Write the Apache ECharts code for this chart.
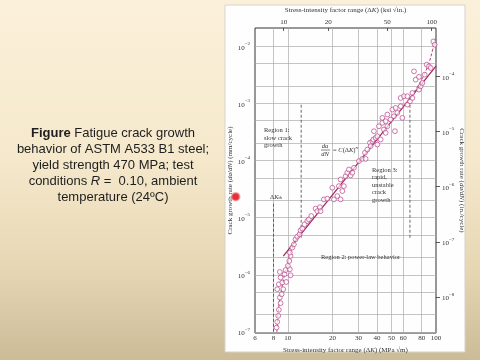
<!DOCTYPE html>
<html><head><meta charset="utf-8">
<script src="https://cdn.jsdelivr.net/npm/echarts@6/dist/echarts.min.js"></script>
<style>html,body{margin:0;padding:0;}#c{width:480px;height:360px;}</style>
</head><body><div id="c"></div>
<script>
// Stress-intensity factor range (MPa·√m) and crack growth rate (mm/cycle)
const deltaK = [8.39,8.48,8.61,8.69,8.93,8.83,9.07,8.48,9.31,8.69,9.17,9.75,8.93,9.50,10.43,8.83,9.65,10.31,10.0,10.22,
  10.43,10.31,10.71,10.98,11.27,11.57,12.0,12.18,12.51,12.97,13.52,13.86,14.39,15.39,15.80,16.45,16.63,17.51,18.46,19.95,
  20.46,21.57,22.11,22.70,22.70,23.31,23.89,24.54,25.20,25.84,26.53,27.24,27.93,30.17,31.82,33.50,33.14,34.41,35.83,36.22,
  37.19,37.76,38.11,39.13,40.18,40.18,41.19,42.30,43.43,43.43,44.53,45.72,45.72,46.95,46.95,49.42,50.75,52.03,52.84,53.42,
  54.85,57.74,57.74,59.29,60.78,64.09,64.09,66.73,69.26,69.26,71.03,72.92,76.75,76.75,78.81,80.93,83.9,86.55,89.67,92.08,96.0,98.0];
const dadN = [1.19e-7,1.50e-7,1.91e-7,2.43e-7,3.18e-7,3.99e-7,4.56e-7,5.58e-7,5.58e-7,6.82e-7,7.31e-7,7.48e-7,8.93e-7,1.02e-6,9.80e-7,1.12e-6,1.21e-6,1.25e-6,1.43e-6,1.74e-6,
  2.13e-6,2.44e-6,2.99e-6,3.41e-6,4.18e-6,4.66e-6,5.11e-6,6.0e-6,6.43e-6,7.64e-6,8.72e-6,9.33e-6,1.07e-5,1.44e-5,1.30e-5,1.53e-5,1.30e-5,2.09e-5,2.15e-5,3.34e-5,
  2.09e-5,2.39e-5,3.57e-5,2.09e-5,4.67e-5,2.92e-5,3.57e-5,5.33e-5,6.12e-5,6.98e-5,5.49e-5,6.12e-5,7.48e-5,9.77e-5,1.07e-4,1.07e-4,1.37e-4,1.56e-4,2.05e-4,1.79e-4,
  2.18e-4,2.34e-4,3.27e-4,2.50e-4,2.67e-4,1.91e-4,3.99e-4,2.34e-4,5.60e-4,4.58e-4,3.50e-4,3.06e-4,4.89e-4,6.40e-4,3.99e-4,5.24e-4,7.82e-4,5.97e-4,3.27e-4,8.38e-4,
  6.85e-4,1.25e-3,8.93e-4,5.60e-4,1.34e-3,1.34e-3,9.57e-4,1.09e-3,1.25e-3,1.53e-3,3.66e-3,2.62e-3,2.92e-3,1.75e-3,2.0e-3,2.29e-3,3.2e-3,4.79e-3,4.47e-3,4.19e-3,1.22e-2,1.07e-2];

// Region 2 power-law line
const fitK = [9.31, 100];
const fitRate = [2.13e-6, 4.5e-3];
// Region 1 dashed curve
const region1K = [8.43, 8.65, 9.07, 9.65, 10.43, 11.27, 12.6];
const region1Rate = [9.9e-8, 2.5e-7, 5.6e-7, 1.15e-6, 2.4e-6, 3.9e-6, 6.2e-6];
// Region 3 dashed curve
const region3K = [62.4, 72.9, 81.3, 89.3, 95.0, 99.5];
const region3Rate = [9.5e-4, 1.75e-3, 2.84e-3, 4.99e-3, 8.75e-3, 1.42e-2];
// Vertical dashed boundaries: ΔKth, region 1 / 2, region 2 / 3
const boundaryK = [8, 12.3, 66.7];
const boundaryTop = [1.75e-5, 9.5e-4, 9.5e-4];
const boundaryBottom = [1e-7, 4.1e-6, 4.4e-6];

// Axes
const bottomTicks = [6, 8, 10, 20, 30, 40, 50, 60, 80, 100];
const topTicks = [10, 20, 50, 100];
const gridK = [8, 10, 20, 30, 40, 50, 60, 80];
const leftExponents = [-7, -6, -5, -4, -3, -2];
const rightExponents = [-8, -7, -6, -5, -4];
const gridMantissas = [1, 2, 5];

const L = Math.log10;
const toPts = (ks, rs) => ks.map((k, i) => [L(k), L(rs[i])]);

const xMin = L(6), xMax = 2;
const yMin = -7.02, yMax = -1.678;
const topMin = 0.806, topMax = 2.029;
const rMin = -8.653, rMax = -3.122;

const yGrid = [];
for (let e = -7; e <= -2; e++) for (const m of gridMantissas) {
  const v = e + L(m); if (v > yMin && v < yMax - 0.05) yGrid.push(v);
}

const SERIF = '"Liberation Serif","DejaVu Serif",serif';
const TXT = '#333';
const supRich = {
  b: {fontFamily: SERIF, fontSize: 7, color: TXT, verticalAlign: 'bottom', lineHeight: 10},
  s: {fontFamily: SERIF, fontSize: 5, color: TXT, verticalAlign: 'top', lineHeight: 10}
};
const supFmt = v => '{b|10}{s|\u2212' + Math.round(-v) + '}';
const nameStyle = {fontFamily: SERIF, fontSize: 7, color: TXT,
  rich: {i: {fontFamily: SERIF, fontSize: 7, color: TXT, fontStyle: 'italic'}}};

const chart = echarts.init(document.getElementById('c'), null, {renderer: 'canvas'});

const boundarySeries = boundaryK.map((k, i) => ({
  type: 'line', xAxisIndex: 0, yAxisIndex: 0, symbol: 'none', silent: true,
  data: [[L(k), L(boundaryTop[i])], [L(k), L(boundaryBottom[i])]],
  lineStyle: {color: '#444', width: 0.8, type: [3, 2]}, z: 2
}));

chart.setOption({
  animation: false,
  backgroundColor: {type: 'linear', x: 0, y: 0, x2: 0, y2: 1, colorStops: [
    {offset: 0, color: '#fbf0da'}, {offset: 0.45, color: '#f5e8cb'},
    {offset: 0.75, color: '#e6d6b3'}, {offset: 1, color: '#cbbb97'}]},
  grid: {left: 255, top: 28, width: 181, height: 305, show: true, borderColor: '#333', borderWidth: 1},
  xAxis: [{
    type: 'value', position: 'bottom', min: xMin, max: xMax,
    axisLine: {show: false},
    axisTick: {show: false, customValues: gridK.map(L)},
    splitLine: {show: true, lineStyle: {color: '#ababab', width: 0.7}},
    axisLabel: {customValues: bottomTicks.map(L), margin: 2, fontFamily: SERIF, fontSize: 7, color: TXT,
      formatter: v => String(Math.round(Math.pow(10, v)))},
    name: 'Stress-intensity factor range (\u0394{i|K}) (MPa \u221Am)', nameLocation: 'middle', nameGap: 12,
    nameTextStyle: nameStyle
  }, {
    type: 'value', position: 'top', min: topMin, max: topMax,
    axisLine: {show: false},
    axisTick: {show: true, inside: true, length: 3, customValues: topTicks.map(L), lineStyle: {color: '#333', width: 0.8}},
    splitLine: {show: false},
    axisLabel: {customValues: topTicks.map(L), margin: 2, fontFamily: SERIF, fontSize: 7, color: TXT,
      formatter: v => String(Math.round(Math.pow(10, v)))},
    name: 'Stress-intensity factor range (\u0394{i|K}) (ksi \u221Ain.)', nameLocation: 'middle', nameGap: 12,
    nameTextStyle: nameStyle
  }],
  yAxis: [{
    type: 'value', position: 'left', min: yMin, max: yMax,
    axisLine: {show: false},
    axisTick: {show: false, customValues: yGrid},
    splitLine: {show: true, lineStyle: {color: '#ababab', width: 0.7}},
    axisLabel: {customValues: leftExponents, margin: 5, formatter: supFmt, rich: supRich},
    name: 'Crack growth rate ({i|da}/{i|dN}) (mm/cycle)', nameLocation: 'middle', nameGap: 21, nameRotate: 90,
    nameTextStyle: nameStyle
  }, {
    type: 'value', position: 'right', min: rMin, max: rMax,
    axisLine: {show: false},
    axisTick: {show: true, inside: false, length: 4, customValues: rightExponents, lineStyle: {color: '#333', width: 0.8}},
    splitLine: {show: false},
    axisLabel: {customValues: rightExponents, margin: 6, formatter: supFmt, rich: supRich},
    name: 'Crack growth rate ({i|da}/{i|dN}) (in./cycle)', nameLocation: 'middle', nameGap: 20, nameRotate: -90,
    nameTextStyle: nameStyle
  }],
  series: [
    ...boundarySeries,
    {type: 'line', xAxisIndex: 0, yAxisIndex: 0, symbol: 'none', silent: true, smooth: 0.4,
      data: toPts(region1K, region1Rate), lineStyle: {color: '#b53a76', width: 1, type: [3, 2]}, z: 3},
    {type: 'line', xAxisIndex: 0, yAxisIndex: 0, symbol: 'none', silent: true, smooth: 0.4,
      data: toPts(region3K, region3Rate), lineStyle: {color: '#b53a76', width: 1, type: [3, 2]}, z: 3},
    {type: 'line', xAxisIndex: 0, yAxisIndex: 0, symbol: 'none', silent: true,
      data: toPts(fitK, fitRate), lineStyle: {color: '#a0245a', width: 1.2}, z: 3},
    {type: 'scatter', xAxisIndex: 0, yAxisIndex: 0, symbol: 'circle', symbolSize: 4.8,
      data: toPts(deltaK, dadN),
      itemStyle: {color: 'rgba(255,255,255,0.85)', borderColor: '#b9468a', borderWidth: 0.9}, z: 4}
  ],
  graphic: [
    {type: 'rect', z: -10, shape: {x: 225, y: 5, width: 240, height: 347},
      style: {fill: '#fefefe', stroke: '#d6d3cc', lineWidth: 1}},
    {type: 'text', z: 10, x: 113, y: 125, style: {
      text: '{b|Figure} Fatigue crack growth\nbehavior of ASTM A533 B1 steel;\nyield strength 470 MPa; test\nconditions {i|R} =  0.10, ambient\ntemperature (24\u00BAC)',
      align: 'center', verticalAlign: 'top', fontFamily: '"Liberation Sans",Arial,sans-serif', fontSize: 13, lineHeight: 16, fill: '#1e1e1e',
      rich: {b: {fontWeight: 'bold', fontFamily: '"Liberation Sans",Arial,sans-serif', fontSize: 13, lineHeight: 16, fill: '#1e1e1e'},
             i: {fontStyle: 'italic', fontFamily: '"Liberation Sans",Arial,sans-serif', fontSize: 13, lineHeight: 16, fill: '#1e1e1e'}}}},
    {type: 'text', z: 10, x: 264, y: 127, style: {text: 'Region 1:\nslow crack\ngrowth',
      fontFamily: SERIF, fontSize: 6.5, lineHeight: 7.5, fill: TXT}},
    {type: 'text', z: 10, x: 325, y: 146, style: {text: 'da', align: 'center', verticalAlign: 'middle',
      fontFamily: SERIF, fontSize: 6.5, fontStyle: 'italic', fill: TXT}},
    {type: 'line', z: 10, shape: {x1: 321, y1: 150, x2: 330, y2: 150}, style: {stroke: TXT, lineWidth: 0.6}},
    {type: 'text', z: 10, x: 325, y: 154.5, style: {text: 'dN', align: 'center', verticalAlign: 'middle',
      fontFamily: SERIF, fontSize: 6.5, fontStyle: 'italic', fill: TXT}},
    {type: 'text', z: 10, x: 333, y: 150, style: {text: '= {i|C}(\u0394{i|K}){s|n}', verticalAlign: 'middle',
      fontFamily: SERIF, fontSize: 6.5, fill: TXT,
      rich: {i: {fontStyle: 'italic', fontFamily: SERIF, fontSize: 6.5, fill: TXT},
             s: {fontStyle: 'italic', fontFamily: SERIF, fontSize: 5, fill: TXT, verticalAlign: 'top', lineHeight: 9}}}},
    {type: 'text', z: 10, x: 372, y: 166, style: {text: 'Region 3:\nrapid,\nunstable\ncrack\ngrowth',
      fontFamily: SERIF, fontSize: 6.5, lineHeight: 7.6, fill: TXT}},
    {type: 'text', z: 10, x: 276, y: 197, style: {text: '\u0394{i|K}{t|th}', align: 'center', verticalAlign: 'middle',
      fontFamily: SERIF, fontSize: 6.5, fill: TXT,
      rich: {i: {fontStyle: 'italic', fontFamily: SERIF, fontSize: 6.5, fill: TXT},
             t: {fontFamily: SERIF, fontSize: 4.5, fill: TXT, verticalAlign: 'bottom'}}}},
    {type: 'text', z: 10, x: 321, y: 257, style: {text: 'Region 2: power-law behavior', verticalAlign: 'middle',
      fontFamily: SERIF, fontSize: 6.5, fill: TXT}},
    {type: 'circle', z: 20, shape: {cx: 235.7, cy: 196.7, r: 3.8},
      style: {fill: '#e0303a', stroke: 'rgba(240,110,110,0.55)', lineWidth: 2}}
  ]
});
</script>
</body></html>
